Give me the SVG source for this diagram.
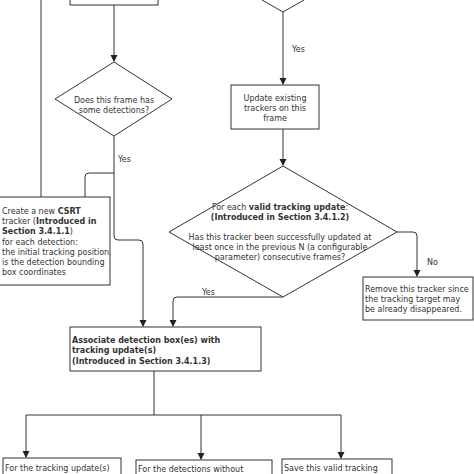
<svg xmlns="http://www.w3.org/2000/svg" width="474" height="474" viewBox="0 0 474 474">
<defs>
<marker id="arr" markerWidth="8" markerHeight="8" refX="6" refY="3.5" orient="auto" markerUnits="userSpaceOnUse">
<path d="M0,0 L7,3.5 L0,7 Z" fill="#222"/>
</marker>
<style>
.n{fill:#fff;stroke:#333;stroke-width:1}
.c{fill:none;stroke:#333;stroke-width:1}
text{font-family:"DejaVu Sans",Verdana,sans-serif;font-size:8px;fill:#333}
.b{font-weight:bold}
.m{text-anchor:middle}
</style>
</defs>
<rect width="474" height="474" fill="#fff"/>
<g id="connectors">
<path class="c" d="M114,5 V61" marker-end="url(#arr)"/>
<path class="c" d="M41,0 V197"/>
<path class="c" d="M114,136 V236 Q114,240 118,240 H139 Q143,240 143,244 V326" marker-end="url(#arr)"/>
<path class="c" d="M114,173 H89 Q85,173 85,177 V197"/>
<path class="c" d="M283,12 V84" marker-end="url(#arr)"/>
<path class="c" d="M283,129 V165" marker-end="url(#arr)"/>
<path class="c" d="M397,232 H413 Q417,232 417,236 V276" marker-end="url(#arr)"/>
<path class="c" d="M283,297 H177 Q173,297 173,301 V326" marker-end="url(#arr)"/>
<path class="c" d="M154,371 V415"/>
<path class="c" d="M26,415 H341"/>
<path class="c" d="M26,415 V457" marker-end="url(#arr)"/>
<path class="c" d="M201,415 V459" marker-end="url(#arr)"/>
<path class="c" d="M341,415 V458" marker-end="url(#arr)"/>
<text x="118" y="162">Yes</text>
<text x="292" y="52">Yes</text>
<text x="427" y="265">No</text>
<text x="202" y="295">Yes</text>
</g>
<g id="top-box"><rect class="n" x="70" y="-10" width="88" height="15"/></g>
<g id="top-diamond"><path class="n" d="M262,0 L283,12 L304,0"/></g>
<g id="d1">
<polygon class="n" points="114,62 172,99 114,136 55,99"/>
<text class="m" x="114" y="103">Does this frame has</text>
<text class="m" x="114" y="113">some detections?</text>
</g>
<g id="update">
<rect class="n" x="231" y="85" width="88" height="44"/>
<text class="m" x="275" y="101">Update existing</text>
<text class="m" x="275" y="111">trackers on this</text>
<text class="m" x="275" y="121">frame</text>
</g>
<g id="csrt">
<rect class="n" x="-1" y="197" width="111" height="88"/>
<text x="2" y="214">Create a new <tspan class="b">CSRT</tspan></text>
<text x="2" y="224">tracker (<tspan class="b">Introduced in</tspan></text>
<text x="2" y="234"><tspan class="b">Section 3.4.1.1</tspan>)</text>
<text x="2" y="245">for each detection:</text>
<text x="2" y="255">the initial tracking position</text>
<text x="2" y="265">is the detection bounding</text>
<text x="2" y="275">box coordinates</text>
</g>
<g id="d2">
<polygon class="n" points="283,166 397,232 283,297 169,232"/>
<text class="m" x="280" y="210">For each <tspan class="b">valid tracking update</tspan>:</text>
<text class="m b" x="280" y="220">(Introduced in Section 3.4.1.2)</text>
<text class="m" x="280" y="240">Has this tracker been successfully updated at</text>
<text class="m" x="280" y="250">least once in the previous N (a configurable</text>
<text class="m" x="280" y="260">parameter) consecutive frames?</text>
</g>
<g id="remove">
<rect class="n" x="363" y="277" width="110" height="43"/>
<text x="365" y="292">Remove this tracker since</text>
<text x="365" y="302">the tracking target may</text>
<text x="365" y="312">be already disappeared.</text>
</g>
<g id="associate">
<rect class="n" x="70" y="327" width="191" height="44"/>
<text class="b" x="72" y="343">Associate detection box(es) with</text>
<text class="b" x="72" y="353">tracking update(s)</text>
<text class="b" x="72" y="364">(Introduced in Section 3.4.1.3)</text>
</g>
<g id="b1">
<rect class="n" x="3" y="458" width="118" height="30"/>
<text x="5" y="471">For the tracking update(s)</text>
</g>
<g id="b2">
<rect class="n" x="136" y="460" width="136" height="30"/>
<text x="138" y="472">For the detections without</text>
</g>
<g id="b3">
<rect class="n" x="282" y="459" width="110" height="30"/>
<text x="284" y="471">Save this valid tracking</text>
</g>
</svg>
